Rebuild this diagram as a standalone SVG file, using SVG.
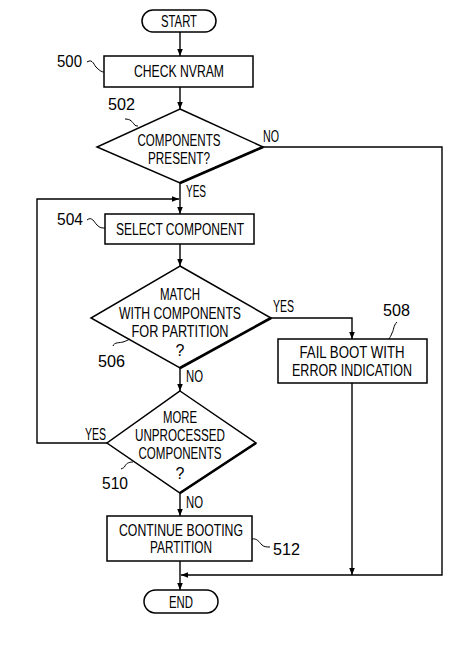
<svg xmlns="http://www.w3.org/2000/svg" width="474" height="647" viewBox="0 0 474 647">
<defs>
<marker id="arr" viewBox="0 0 10 10" refX="10" refY="5" markerWidth="7" markerHeight="7" markerUnits="userSpaceOnUse" orient="auto">
<path d="M0,1 L10,5 L0,9 Z" fill="#000"/>
</marker>
<style>
.s{fill:#fff;stroke:#000;stroke-width:1.5}
.e{fill:none;stroke:#000;stroke-width:2.6}
.c{fill:none;stroke:#000;stroke-width:1.4}
.q{fill:none;stroke:#000;stroke-width:1}
text{font-family:"Liberation Sans",Arial,sans-serif;font-size:16px;fill:#000}
.m{text-anchor:middle}
.n{font-size:17px}
</style>
</defs>
<rect width="474" height="647" fill="#fff"/>
<g id="connectors">
<path class="c" d="M180,32 V56" marker-end="url(#arr)"/>
<path class="c" d="M180,87 V109" marker-end="url(#arr)"/>
<path class="c" d="M180,183 V214" marker-end="url(#arr)"/>
<path class="c" d="M263,147 H442 V575 H181" marker-end="url(#arr)"/>
<path class="c" d="M180,244 V266" marker-end="url(#arr)"/>
<path class="c" d="M271,318 H352 V339" marker-end="url(#arr)"/>
<path class="c" d="M180,368 V391" marker-end="url(#arr)"/>
<path class="c" d="M107,443 H37 V199 H179" marker-end="url(#arr)"/>
<path class="c" d="M180,493 V516" marker-end="url(#arr)"/>
<path class="c" d="M352,383 V575" marker-end="url(#arr)"/>
<path class="c" d="M180,561 V590" marker-end="url(#arr)"/>
<text x="263" y="142" textLength="16" lengthAdjust="spacingAndGlyphs">NO</text>
<text x="186" y="197" textLength="20" lengthAdjust="spacingAndGlyphs">YES</text>
<text x="273" y="312" textLength="21" lengthAdjust="spacingAndGlyphs">YES</text>
<text x="186" y="382" textLength="17" lengthAdjust="spacingAndGlyphs">NO</text>
<text x="85" y="440" textLength="21" lengthAdjust="spacingAndGlyphs">YES</text>
<text x="186" y="508" textLength="17" lengthAdjust="spacingAndGlyphs">NO</text>
</g>
<g id="start">
<rect class="s" x="142" y="10" width="74" height="22" rx="11"/>
<text class="m" x="179" y="27" textLength="36" lengthAdjust="spacingAndGlyphs">START</text>
</g>
<g id="n500">
<rect class="s" x="104" y="56" width="149" height="31"/>
<text class="m" x="179" y="77" textLength="90" lengthAdjust="spacingAndGlyphs">CHECK NVRAM</text>
<text class="n" x="57" y="67" textLength="25" lengthAdjust="spacingAndGlyphs">500</text>
<path class="q" d="M87,62 C93,58 94,66 97,68 C100,71 102,72 104,72"/>
</g>
<g id="n502">
<path class="s" d="M180,109 L263,147 L180,183 L97,147 Z"/>
<path class="e" d="M263,147 L180,183"/>
<text class="m" x="179" y="146" textLength="83" lengthAdjust="spacingAndGlyphs">COMPONENTS</text>
<text class="m" x="179" y="164" textLength="62" lengthAdjust="spacingAndGlyphs">PRESENT?</text>
<text class="n" x="108" y="110" textLength="27" lengthAdjust="spacingAndGlyphs">502</text>
<path class="q" d="M125,119 C131,119 132,122 134,124 C135,126 137,126 138,126"/>
</g>
<g id="n504">
<rect class="s" x="105" y="214" width="149" height="30"/>
<text class="m" x="180" y="235" textLength="128" lengthAdjust="spacingAndGlyphs">SELECT COMPONENT</text>
<text class="n" x="57" y="225" textLength="26" lengthAdjust="spacingAndGlyphs">504</text>
<path class="q" d="M87,220 C92,216 94,222 97,225 C100,228 102,228 105,228"/>
</g>
<g id="n506">
<path class="s" d="M180,266 L271,318 L180,368 L91,318 Z"/>
<path class="e" d="M271,318 L180,368"/>
<text class="m" x="180" y="300" textLength="40" lengthAdjust="spacingAndGlyphs">MATCH</text>
<text class="m" x="180" y="319" textLength="122" lengthAdjust="spacingAndGlyphs">WITH COMPONENTS</text>
<text class="m" x="180" y="337" textLength="97" lengthAdjust="spacingAndGlyphs">FOR PARTITION</text>
<text class="m" x="180" y="356">?</text>
<text class="n" x="98" y="367" textLength="27" lengthAdjust="spacingAndGlyphs">506</text>
<path class="q" d="M113,346 C114,342 120,343 123,342 C126,341 128,340 130,339"/>
</g>
<g id="n508">
<rect class="s" x="278" y="339" width="149" height="44"/>
<text class="m" x="352" y="358" textLength="105" lengthAdjust="spacingAndGlyphs">FAIL BOOT WITH</text>
<text class="m" x="352" y="376" textLength="120" lengthAdjust="spacingAndGlyphs">ERROR INDICATION</text>
<text class="n" x="383" y="316" textLength="27" lengthAdjust="spacingAndGlyphs">508</text>
<path class="q" d="M397,322 C393,326 394,330 392,333 C391,336 390,337 389,339"/>
</g>
<g id="n510">
<path class="s" d="M180,391 L256,443 L180,493 L107,443 Z"/>
<path class="e" d="M256,443 L180,493"/>
<text class="m" x="180" y="423" textLength="34" lengthAdjust="spacingAndGlyphs">MORE</text>
<text class="m" x="180" y="441" textLength="90" lengthAdjust="spacingAndGlyphs">UNPROCESSED</text>
<text class="m" x="180" y="459" textLength="83" lengthAdjust="spacingAndGlyphs">COMPONENTS</text>
<text class="m" x="180" y="479">?</text>
<text class="n" x="102" y="489" textLength="26" lengthAdjust="spacingAndGlyphs">510</text>
<path class="q" d="M133,462 C128,462 126,464 125,466 C124,468 123,468 121,469"/>
</g>
<g id="n512">
<rect class="s" x="107" y="516" width="145" height="45"/>
<text class="m" x="181" y="536" textLength="124" lengthAdjust="spacingAndGlyphs">CONTINUE BOOTING</text>
<text class="m" x="181" y="553" textLength="62" lengthAdjust="spacingAndGlyphs">PARTITION</text>
<text class="n" x="273" y="555" textLength="27" lengthAdjust="spacingAndGlyphs">512</text>
<path class="q" d="M252,539 C257,538 259,542 262,545 C264,547 267,547 270,547"/>
</g>
<g id="end">
<rect class="s" x="144" y="590" width="74" height="23" rx="11.5"/>
<text class="m" x="181" y="608" textLength="24" lengthAdjust="spacingAndGlyphs">END</text>
</g>
</svg>
